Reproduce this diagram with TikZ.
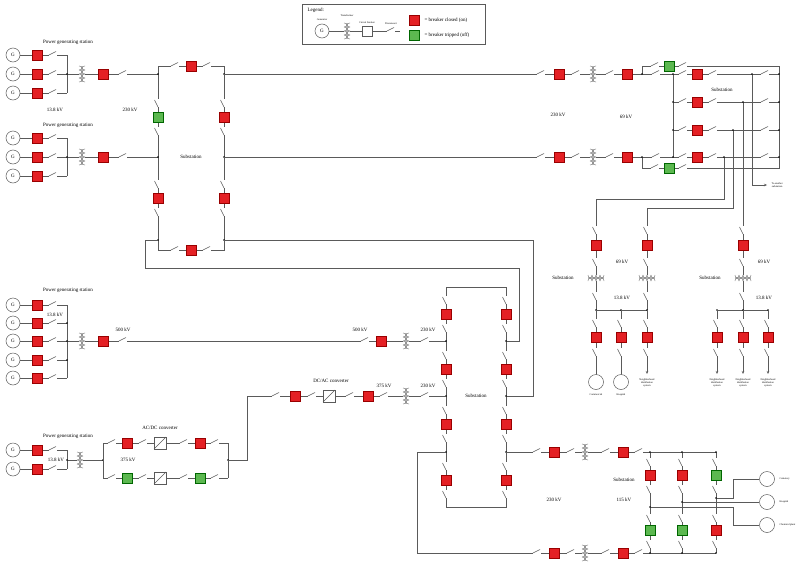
\documentclass[tikz,border=0pt]{standalone}
\usepackage{fontspec}
\setmainfont{Liberation Serif}
\usetikzlibrary{arrows.meta}
\definecolor{brred}{RGB}{228,32,36}
\definecolor{brgreen}{RGB}{92,184,80}
\definecolor{ln}{RGB}{90,90,90}
\newcommand\Rb[3]{\node[brk] (#1) at (#2,#3) {};}
\newcommand\Gb[3]{\node[brkg] (#1) at (#2,#3) {};}
\newcommand\Gn[3]{\node[gen] (#1) at (#2,#3) {G};}
\newcommand\SwH[2]{\pic at (#1,#2) {swh};}
\newcommand\SwV[2]{\pic at (#1,#2) {swv};}
\newcommand\TfH[2]{\pic at (#1,#2) {tfh};}
\newcommand\TfV[2]{\pic at (#1,#2) {tfv};}
\newcommand\Dt[2]{\fill (#1,#2) circle (0.9);}
\begin{document}
\begin{tikzpicture}[x=1pt,y=-1pt,line width=0.5pt,draw=ln,
 brk/.style={draw=red!60!black,fill=brred,minimum size=10pt,inner sep=0pt,line width=0.3pt},
 brkg/.style={brk,fill=brgreen,draw=green!40!black},
 gen/.style={circle,draw=ln,minimum size=14pt,inner sep=0pt,fill=white,font=\fontsize{5}{6}\selectfont},
 load/.style={circle,draw=ln,minimum size=15pt,inner sep=0pt,fill=white},
 lbl/.style={font=\fontsize{5}{6}\selectfont},
 sml/.style={font=\fontsize{2.6}{3}\selectfont,align=center},
 arr/.style={-{Stealth[length=3pt,width=2.5pt]}},
 pics/swh/.style={code={\fill[white] (-4,-1.6) rectangle (4,1.6); \draw[ln] (-4,0)--(3,-3.5);}},
 pics/swv/.style={code={\fill[white] (-1.6,-4) rectangle (1.6,4); \draw[ln] (0,4)--(-3.5,-3);}},
 pics/tfh/.style={code={\fill[white] (-5,-10) rectangle (5,10);
   \foreach \k in {-6,-2,2,6}{\draw[ln,line width=0.35pt] (-3,\k-2) .. controls (2,\k-2) and (2,\k+2) .. (-3,\k+2) (3,\k-2) .. controls (-2,\k-2) and (-2,\k+2) .. (3,\k+2);}
   \draw[ln] (-5,0)--(-3,0) (3,0)--(5,0);}},
 pics/tfv/.style={code={\fill[white] (-10,-5) rectangle (10,5);
   \foreach \k in {-6,-2,2,6}{\draw[ln,line width=0.35pt] (\k-2,-3) .. controls (\k-2,2) and (\k+2,2) .. (\k+2,-3) (\k-2,3) .. controls (\k-2,-2) and (\k+2,-2) .. (\k+2,3);}
   \draw[ln] (0,-5)--(0,-3) (0,3)--(0,5);}},
 pics/conv/.style={code={\draw[ln,fill=white] (-6,-6) rectangle (6,6); \draw[ln] (-6,6)--(6,-6);}}]
\fill[white] (0,0) rectangle (800,570);
\useasboundingbox (0,0) rectangle (800,570);

% ---------------- Legend
\draw[ln] (302,4) rectangle (485,44);
\node[lbl,anchor=west] (lg) at (304,10) {Legend:};
\node[gen] (lgG) at (322,31) {G};
\node[sml] at (322,20) {Generator};
\draw (lgG) -- (376,31);
\TfH{347}{31}
\node[sml] at (347,16) {Transformer};
\node[draw=ln,fill=white,minimum size=10pt,inner sep=0pt] (lgB) at (367,31) {};
\node[sml] at (367,23) {Circuit breaker};
\draw (lgB.east) -- (400,31);
\SwH{391}{31}
\node[sml] at (391,24) {Disconnect};
\node[brk] (lgR) at (414,20) {};
\node[lbl,anchor=west] at (421,20) {= breaker closed (on)};
\node[brkg] (lgGr) at (414,35) {};
\node[lbl,anchor=west] at (421,35) {= breaker tripped (off)};

% ---------------- Generating stations (top)
\foreach \y in {55,74,93,138,157,176}{\draw (13,\y) -- (67,\y);}
\draw (67,55)--(67,93) (67,138)--(67,176);
\draw (67,74)--(158,74) (67,157)--(158,157);
\foreach \y [count=\i] in {55,74,93,138,157,176}{\Gn{ga\i}{13}{\y}\Rb{gb\i}{37}{\y}\SwH{53}{\y}}
\Dt{67}{74}\Dt{67}{157}
\TfH{82}{74}\Rb{t1}{103}{74}\SwH{123}{74}
\TfH{82}{157}\Rb{t2}{103}{157}\SwH{123}{157}
\node[lbl] at (68,42) {Power generating station};
\node[lbl] at (68,125) {Power generating station};
\node[lbl] at (55,110) {13.8 kV};
\node[lbl] at (130,110) {230 kV};

% ---------------- Substation 1
\draw (158,66) rectangle (224,250);
\SwH{175}{66}\SwH{207}{66}\Rb{s1a}{191}{66}
\SwH{175}{250}\SwH{207}{250}\Rb{s1b}{191}{250}
\foreach \x in {158,224}{\SwV{\x}{103}\SwV{\x}{131}\SwV{\x}{184}\SwV{\x}{212}}
\Gb{s1c}{158}{117}\Rb{s1d}{224}{117}\Rb{s1e}{158}{198}\Rb{s1f}{224}{198}
\foreach \y in {74,157,240}{\Dt{158}{\y}\Dt{224}{\y}}
\node[lbl] at (191,157) {Substation};

% ---------------- 230 kV lines to 69 kV substation
\draw (224,74)--(642,74) (224,157)--(642,157);
\foreach \y [count=\i] in {74,157}{\SwH{541}{\y}\Rb{la\i}{559}{\y}\SwH{576}{\y}\TfH{593}{\y}\SwH{610}{\y}\Rb{lb\i}{627}{\y}}
\node[lbl] at (558,115) {230 kV};
\node[lbl] at (626,117) {69 kV};

% ---------------- 69 kV substation
\draw (642,74)--(642,66)--(779,66)--(779,168)--(642,168)--(642,157);
\SwH{655}{66}\SwH{683}{66}\Gb{sg1}{669}{66}
\SwH{655}{168}\SwH{683}{168}\Gb{sg2}{669}{168}
\draw (642,74)--(779,74) (642,157)--(779,157) (673,74)--(673,157) (673,102)--(779,102) (673,130)--(779,130);
\SwH{656}{74}\SwH{656}{157}
\foreach \y [count=\i] in {74,102,130,157}{\SwH{683}{\y}\Rb{sr\i}{697}{\y}\SwH{713}{\y}\SwH{765}{\y}\Dt{779}{\y}\Dt{673}{\y}}
\Dt{642}{74}\Dt{642}{157}
\node[lbl] at (722,90) {Substation};
\draw[arr] (752,74)--(752,185)--(767,185);
\node[sml,anchor=west] at (768,185) {To another\\substation};
\draw (743,102)--(743,310);
\draw (733,130)--(733,208)--(647,208)--(647,310);
\draw (724,157)--(724,199)--(596,199)--(596,310);
\Dt{752}{74}\Dt{743}{102}\Dt{733}{130}\Dt{724}{157}

% distribution substations
\foreach \x [count=\i] in {596,647,743}{\SwV{\x}{230}\Rb{dd\i}{\x}{245}\SwV{\x}{262}\TfV{\x}{278}\SwV{\x}{296}}
\draw (596,310)--(647,310) (717,310)--(768,310);
\foreach \x in {596,621,647,717,743,768}{\Dt{\x}{310}}
\draw (621,310)--(621,375) (596,310)--(596,375);
\draw[arr] (647,310)--(647,374);
\foreach \x in {717,743,768}{\draw[arr] (\x,310)--(\x,374);}
\foreach \x [count=\i] in {596,621,647,717,743,768}{\SwV{\x}{323}\Rb{de\i}{\x}{337}\SwV{\x}{352}}
\node[load] (ld1) at (596,382) {};
\node[load] (ld2) at (621,382) {};
\node[sml] at (596,395) {Commercial};
\node[sml] at (621,395) {Hospital};
\foreach \x in {647,717,743,768}{\node[sml,anchor=north] at (\x,375) {Neighborhood\\distribution\\system};}
\node[lbl] at (622,262) {69 kV};
\node[lbl] at (563,278) {Substation};
\node[lbl] at (622,298) {13.8 kV};
\node[lbl] at (764,262) {69 kV};
\node[lbl] at (710,278) {Substation};
\node[lbl] at (764,298) {13.8 kV};

% ---------------- links from substation 1 to lower substation
\draw (158,240)--(145,240)--(145,268)--(519,268)--(519,341)--(506,341);
\draw (224,240)--(533,240)--(533,396)--(506,396);

% ---------------- Generating station (middle)
\foreach \y in {305,323,341,360,378}{\draw (13,\y)--(67,\y);}
\draw (67,305)--(67,378) (67,341)--(446,341);
\foreach \y [count=\i] in {305,323,341,360,378}{\Gn{gc\i}{13}{\y}\Rb{gd\i}{37}{\y}\SwH{53}{\y}}
\foreach \y in {323,341,360}{\Dt{67}{\y}}
\TfH{82}{341}\Rb{m1}{103}{341}\SwH{123}{341}
\SwH{365}{341}\Rb{m2}{381}{341}\TfH{406}{341}\SwH{425}{341}
\node[lbl] at (68,290) {Power generating station};
\node[lbl] at (55,315) {13.8 kV};
\node[lbl] at (123,330) {500 kV};
\node[lbl] at (360,330) {500 kV};
\node[lbl] at (428,330) {230 kV};

% ---------------- Lower substation
\draw (446,287) rectangle (506,507);
\foreach \x in {446,506}{\foreach \y [count=\i] in {314,369,424,480}{\SwV{\x}{\y-14}\SwV{\x}{\y+14}}}
\foreach \y [count=\i] in {314,369,424,480}{\Rb{la\i x}{446}{\y}\Rb{lc\i x}{506}{\y}}
\foreach \y in {341,396,452}{\Dt{446}{\y}\Dt{506}{\y}}
\node[lbl] at (476,396) {Substation};

% ---------------- Bottom-left generating station & converters
\draw (13,450)--(67,450) (13,469)--(67,469) (67,450)--(67,469) (67,460)--(103,460);
\Gn{ge1}{13}{450}\Gn{ge2}{13}{469}
\Rb{gf1}{37}{450}\Rb{gf2}{37}{469}\SwH{53}{450}\SwH{53}{469}
\Dt{67}{460}\TfH{80}{460}\Dt{103}{460}
\draw (103,443)--(103,478) (103,443)--(228,443) (103,478)--(228,478) (228,443)--(228,478);
\foreach \y in {443,478}{\SwH{112}{\y}\SwH{143}{\y}\pic at (160,\y) {conv};\SwH{184}{\y}\SwH{215}{\y}}
\Rb{c1}{127}{443}\Rb{c2}{200}{443}\Gb{c3}{127}{478}\Gb{c4}{200}{478}
\Dt{228}{460}
\node[lbl] at (68,436) {Power generating station};
\node[lbl] at (56,460) {13.8 kV};
\node[lbl] at (160,428) {AC/DC converter};
\node[lbl] at (128,460) {375 kV};
\draw (228,460)--(247,460)--(247,396)--(446,396);
\SwH{276}{396}\Rb{dc1}{295}{396}\SwH{312}{396}\pic at (329,396) {conv};\SwH{350}{396}\Rb{dc2}{368}{396}\SwH{384}{396}\TfH{406}{396}\SwH{425}{396}
\node[lbl] at (331,381) {DC/AC converter};
\node[lbl] at (384,386) {375 kV};
\node[lbl] at (428,386) {230 kV};

% ---------------- 115 kV substation
\draw (506,452)--(716,452) (446,452)--(417,452)--(417,553)--(716,553);
\foreach \y [count=\i] in {452,553}{\SwH{537}{\y}\Rb{ha\i}{554}{\y}\SwH{571}{\y}\TfH{585}{\y}\SwH{606}{\y}\Rb{hb\i}{623}{\y}\SwH{639}{\y}}
\foreach \x in {650,682,716}{\draw (\x,452)--(\x,553); \SwV{\x}{462}\SwV{\x}{489}\SwV{\x}{518}\SwV{\x}{544}\Dt{\x}{452}\Dt{\x}{553}}
\Rb{hc1}{650}{475}\Rb{hc2}{682}{475}\Gb{hc3}{716}{475}
\Gb{hd1}{650}{530}\Gb{hd2}{682}{530}\Rb{hd3}{716}{530}
\node[load] (ce) at (767,479) {};
\node[load] (ho) at (767,502) {};
\node[load] (ch) at (767,525) {};
\draw (716,498)--(733,498)--(733,479)--(ce);
\draw (682,502)--(ho);
\draw (650,507)--(733,507)--(733,525)--(ch);
\Dt{716}{498}\Dt{682}{502}\Dt{650}{507}
\node[sml,anchor=west] at (776,479) {Cemetery};
\node[sml,anchor=west] at (776,502) {Hospital};
\node[sml,anchor=west] at (776,525) {Chemical plant};
\node[lbl] at (624,480) {Substation};
\node[lbl] at (554,500) {230 kV};
\node[lbl] at (624,500) {115 kV};
\end{tikzpicture}
\end{document}
